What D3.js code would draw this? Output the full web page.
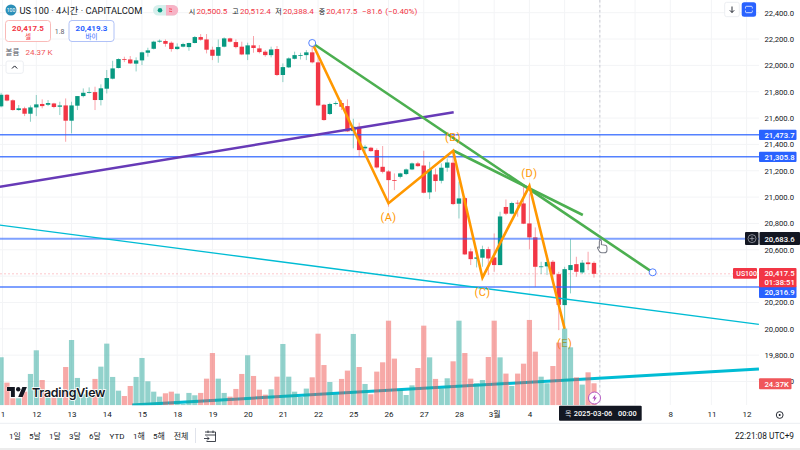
<!DOCTYPE html>
<html>
<head>
<meta charset="utf-8">
<script src="https://cdn.jsdelivr.net/npm/d3@7/dist/d3.min.js"></script>
<style>
  html, body { margin: 0; padding: 0; background: #fff; }
  svg { display: block; font-family: Roboto, "Noto Sans CJK KR", sans-serif; }
  .domain { display: none; }
</style>
</head>
<body>
<div id="chart"></div>
<script>
// four hour bars, oldest first
const candleOpen = [21689,21777,21735,21661,21674,21633,21681,21707,21701,21711,21686,21696,21580,21694,21767,21792,21797,21737,21823,21899,21980,22048,22045,22013,22038,22096,22126,22180,22185,22172,22124,22142,22139,22170,22215,22197,22119,22073,22142,22205,22177,22142,22083,22152,22129,22104,22078,22124,21927,21985,22050,22073,22078,22099,22023,21701,21631,21707,21714,21691,21501,21534,21370,21375,21357,21230,21195,21129,21154,21175,21210,21256,21240,21036,21172,21124,21223,21261,20950,20992,20588,20532,20540,20605,20542,20484,20925,20874,20957,20952,20800,20694,20469,20474,20509,20415,20180,20446,20491,20428,20504,20500.5];
const candleHigh = [21792,21782,21742,21699,21686,21696,21775,21742,21737,21716,21724,21749,21724,21767,21825,21833,21838,21856,21965,22035,22053,22066,22071,22061,22104,22134,22187,22197,22197,22182,22167,22172,22172,22223,22238,22238,22142,22197,22213,22210,22197,22180,22172,22223,22154,22116,22142,22147,22015,22061,22104,22096,22116,22147,22078,21707,21717,21727,21737,21742,21595,21565,21395,21382,21370,21388,21205,21180,21185,21217,21263,21268,21352,21268,21217,21256,21294,21357,21117,21003,20610,20598,20631,20623,20724,20889,20982,20965,20977,21079,21028,20770,20509,20527,20522,20433,20471,20681,20547,20522,20585,20512.4];
const candleLow = [21681,21727,21656,21656,21615,21572,21615,21674,21691,21674,21623,21420,21484,21661,21757,21787,21661,21696,21787,21894,21977,22025,22010,21954,22002,22066,22121,22172,22142,22104,22119,22137,22111,22167,22187,22091,22040,22020,22137,22175,22129,22078,22040,22096,22091,22066,22061,21919,21873,21980,22045,22045,22040,22015,21691,21580,21623,21696,21661,21494,21370,21306,21344,21344,21217,21180,20927,21053,21142,21167,21205,21230,21028,20985,21041,21104,21192,20939,20838,20560,20484,20466,20471,20408,20433,20484,20863,20869,20851,20795,20603,20319,20415,20408,20357,19990,20003,20269,20395,20415,20446,20388.4];
const candleClose = [21777,21733,21661,21674,21633,21681,21704,21691,21714,21684,21696,21580,21696,21767,21792,21797,21737,21826,21904,21977,22048,22043,22015,22038,22099,22114,22180,22187,22164,22124,22142,22162,22170,22215,22195,22119,22073,22139,22205,22180,22139,22083,22152,22132,22101,22078,22121,21927,21987,22053,22078,22078,22099,22023,21696,21585,21707,21714,21686,21499,21534,21357,21382,21349,21225,21192,21129,21127,21180,21210,21256,21235,21033,21210,21122,21223,21263,20947,20990,20565,20529,20542,20605,20534,20484,20853,20874,20955,20952,20798,20694,20471,20474,20507,20413,20182,20453,20484,20433,20502,20491,20417.5];
const volumeK = [53.2,25.1,7.8,7.8,15.1,34.7,60.9,28,8.5,8.5,8.5,42.4,72.3,30.3,12.2,12.2,29.2,42.8,68.3,31.4,16.2,10.3,21.4,31.4,52.4,26.6,15.1,9.6,13.3,15.1,12.9,1.5,13.7,11.1,13.7,29.5,57.9,29.5,13.7,9.6,18.1,34.7,55.4,32.5,17.3,11.8,17.7,31.7,67.9,31.7,15.1,9.2,18.5,31,79.3,44.6,25.8,12.2,29.2,38.4,79,42.4,23.6,12.2,37.3,47.6,93.7,51.7,17,11.4,22.1,41.3,88.2,53.1,29.2,18.8,29.9,48.7,93.7,57.9,29.5,24.4,28,53.5,93.7,53.1,35.1,21.4,35.1,46.1,94.5,59.4,31.7,24.4,43.5,69.4,85,64.2,31,22.9,36.5,24.37];

const priceTicks = [22400,22200,22000,21800,21600,21400,21200,21000,20800,20600,20200,20000,19800,19600];
const timeTickBars = [0.25,6,12,18,24,30,36,42,48,54,60,66,72,78,84,90,114,121,127];
const timeTickLabels = ["1","12","13","14","15","18","19","20","21","22","25","26","27","28","3월","4","8","11","12"];
const hiddenDayBars = [96, 102, 108]; // days behind the date tag, grid only

const levelPrices = [21473.7, 21305.8, 20683.6, 20316.9];
const lastPrice = 20417.5;

// drawings as [bar, price]
const waveBars = [53, 66, 77, 82, 90, 96];
const wavePrices = [22170, 20953, 21352, 20388, 21084, 20000];
const waveLabels = ["", "(A)", "(B)", "(C)", "(D)", "(E)"];
const greenLongBars = [53, 111], greenLongPrices = [22170, 20429];
const greenShortBars = [77.1, 99.1], greenShortPrices = [21352, 20864];
const purpleBars = [-0.2, 77.1], purplePrices = [21079, 21644];
const cyanThinBars = [-0.2, 129.1], cyanThinPrices = [20788, 20034];
const cyanThickBars = [22.3, 129.1], cyanThickPrices = [19421, 19695];

const rangeButtons = ["1일","5날","1달","3달","6달","YTD","1해","5해","전체"];
const rangeButtonCentres = [15, 35, 55, 75, 95, 117, 139, 159, 181];

const width = 800, height = 450, paneWidth = 759, volumeBase = 405.3;
const up = "#089981", down = "#f23645", blue = "#2962ff", ink = "#131722", grey = "#5d606b";

const x = d3.scaleLinear().domain([0, 127]).range([1.1, 746.6]);
const y = d3.scaleLinear().domain([22400, 19600]).range([12.7, 381.5]);
const vol = d3.scaleLinear().domain([0, 100]).range([volumeBase, volumeBase - 90.3]);

const svg = d3.select("#chart").append("svg").attr("width", width).attr("height", height);
svg.append("defs").append("clipPath").attr("id", "pane")
    .append("rect").attr("width", paneWidth).attr("height", volumeBase);

const pane = svg.append("g").attr("clip-path", "url(#pane)");

// grid
pane.append("g").selectAll("line").data(priceTicks.concat([20400])).join("line")
    .attr("x1", 0).attr("x2", paneWidth)
    .attr("y1", d => y(d)).attr("y2", d => y(d))
    .attr("stroke", "#f3f4f6");
pane.append("g").selectAll("line").data(timeTickBars.concat(hiddenDayBars)).join("line")
    .attr("x1", d => x(d)).attr("x2", d => x(d))
    .attr("y1", 0).attr("y2", volumeBase)
    .attr("stroke", "#f3f4f6");

// last price line
pane.append("line")
    .attr("x1", 0).attr("x2", paneWidth)
    .attr("y1", y(lastPrice)).attr("y2", y(lastPrice))
    .attr("stroke", down).attr("stroke-opacity", 0.28).attr("stroke-dasharray", "2 2");

// crosshair
pane.append("line")
    .attr("x1", x(102)).attr("x2", x(102))
    .attr("y1", 0).attr("y2", volumeBase)
    .attr("stroke", "#b2b5be").attr("stroke-dasharray", "2.5 2.5").attr("stroke-width", 0.7);

// candles
const bars = d3.range(candleOpen.length);
const barColor = i => candleClose[i] >= candleOpen[i] ? up : down;
pane.append("g").selectAll("line").data(bars).join("line")
    .attr("x1", i => x(i)).attr("x2", i => x(i))
    .attr("y1", i => y(candleHigh[i])).attr("y2", i => y(candleLow[i]))
    .attr("stroke", barColor).attr("stroke-opacity", 0.45);
pane.append("g").selectAll("rect").data(bars).join("rect")
    .attr("x", i => x(i) - 2.2).attr("width", 4.4)
    .attr("y", i => y(Math.max(candleOpen[i], candleClose[i])))
    .attr("height", i => Math.max(0.8, Math.abs(y(candleOpen[i]) - y(candleClose[i]))))
    .attr("fill", barColor);

// levels
pane.append("g").selectAll("line").data(levelPrices).join("line")
    .attr("x1", 0).attr("x2", paneWidth)
    .attr("y1", d => y(d)).attr("y2", d => y(d))
    .attr("stroke", blue)
    .attr("stroke-width", d => d === levelPrices[2] ? 1.8 : 1.4)
    .attr("stroke-opacity", d => d === levelPrices[2] ? 0.6 : 0.8);

// drawings
const line = d3.line();
function drawLine(barsOf, pricesOf, color, w) {
    pane.append("path")
        .attr("d", line(barsOf.map((b, k) => [x(b), y(pricesOf[k])])))
        .attr("fill", "none").attr("stroke", color).attr("stroke-width", w)
        .attr("stroke-linejoin", "miter");
}
drawLine(cyanThinBars, cyanThinPrices, "#00bcd4", 1.3);
drawLine(cyanThickBars, cyanThickPrices, "#00bcd4", 3);
drawLine(purpleBars, purplePrices, "#673ab7", 2.5);
drawLine(greenLongBars, greenLongPrices, "#4caf50", 2.6);
drawLine(greenShortBars, greenShortPrices, "#4caf50", 2.6);
drawLine(waveBars, wavePrices, "#ff9800", 2.6);

const waveLabelDy = [0, 14, -14, 14, -13, 14];
pane.append("g").selectAll("text").data(waveLabels).join("text")
    .attr("x", (d, k) => x(waveBars[k]))
    .attr("y", (d, k) => y(wavePrices[k]) + waveLabelDy[k] + 4)
    .attr("text-anchor", "middle").attr("font-size", 11).attr("letter-spacing", 0.5)
    .attr("fill", "#ff9800").text(d => d);

pane.append("g").selectAll("circle")
    .data([[greenLongBars[0], greenLongPrices[0]], [greenLongBars[1], greenLongPrices[1]]]).join("circle")
    .attr("cx", d => x(d[0])).attr("cy", d => y(d[1])).attr("r", 3.5)
    .attr("fill", "#fff").attr("stroke", blue).attr("stroke-width", 0.8);

// volume sits over the drawings
pane.append("g").selectAll("rect").data(bars).join("rect")
    .attr("x", i => x(i) - 2.6).attr("width", 5.2)
    .attr("y", i => vol(volumeK[i]))
    .attr("height", i => volumeBase - vol(volumeK[i]))
    .attr("fill", i => candleClose[i] >= candleOpen[i] ? "#26a69a" : "#ef5350")
    .attr("fill-opacity", 0.5);

// watermark
const mark = svg.append("g").attr("transform", "translate(7,385)");
mark.append("path")
    .attr("transform", "scale(0.56) translate(0,-0.5)")
    .attr("d", "M14 22H7V11H0V4h14v18zM28 22h-8l7.5-18h8L28 22z")
    .attr("fill", ink).attr("stroke", "#fff").attr("stroke-width", 1).attr("paint-order", "stroke");
mark.append("circle").attr("cx", 11.2).attr("cy", 4.2).attr("r", 2.2).attr("fill", ink);
mark.append("text").attr("x", 25).attr("y", 12.3)
    .attr("font-size", 12.4).attr("font-weight", 600).attr("fill", ink)
    .attr("font-family", "Inter, Roboto, sans-serif").attr("letter-spacing", -0.2)
    .attr("stroke", "#fff").attr("stroke-width", 1.5).attr("paint-order", "stroke")
    .text("TradingView");

// mouse hand
svg.append("path")
    .attr("transform", "translate(597.5,239) scale(1.15)")
    .attr("d", "M2 0.5c1 0 1.4 .6 1.4 1.4v3l3.4 .6c1 .2 1.4 .8 1.4 1.6v2.6c0 1.4 -.9 2.3 -2.3 2.3h-2.1c-.9 0 -1.5 -.4 -2 -1l-1.7 -3c-.4 -.7 .4 -1.4 1 -.9l.5 .5v-5.2c0 -.8 .4 -1.4 1 -1.4z")
    .attr("fill", "#fff").attr("stroke", "#787b86").attr("stroke-width", 0.9);

// price axis
const priceAxis = d3.axisRight(y).tickValues(priceTicks).tickSize(0).tickPadding(0)
    .tickFormat(d3.format(",.1f"));
svg.append("g").attr("transform", "translate(764.5,0)").call(priceAxis)
    .call(g => g.selectAll("text").attr("font-family", "Roboto, sans-serif").attr("font-size", 7.7).attr("fill", ink));

// time axis
const timeAxis = d3.axisBottom(x).tickValues(timeTickBars).tickSize(0).tickPadding(0)
    .tickFormat((d, k) => timeTickLabels[k]);
svg.append("g").attr("transform", "translate(0,411)").call(timeAxis)
    .call(g => g.selectAll("text").attr("font-family", "Roboto, 'Noto Sans CJK KR', sans-serif").attr("font-size", 8).attr("fill", ink));

svg.append("line").attr("x1", 0).attr("x2", width).attr("y1", 423.3).attr("y2", 423.3).attr("stroke", "#eceef2");
svg.append("rect").attr("y", 448).attr("width", width).attr("height", 2).attr("fill", "#ececec");

// axis tags
function tag(left, right, top, bottom, fill) {
    svg.append("rect").attr("x", left).attr("y", top)
        .attr("width", right - left).attr("height", bottom - top)
        .attr("fill", fill).attr("rx", 1);
}
function tagText(text, px, py, color, size) {
    return svg.append("text").attr("x", px).attr("y", py)
        .attr("font-size", size || 7.7).attr("fill", color || "#fff")
        .attr("font-weight", 500).text(text);
}
const f1 = d3.format(",.1f");
tag(759, 796.5, y(levelPrices[0]) - 5, y(levelPrices[0]) + 5.3, blue);
tagText(f1(levelPrices[0]), 764.5, y(levelPrices[0]) + 3);
tag(759, 796.5, y(levelPrices[1]) - 5, y(levelPrices[1]) + 5.3, blue);
tagText(f1(levelPrices[1]), 764.5, y(levelPrices[1]) + 3);
tag(745, 758.5, 232, 245, ink);
svg.append("circle").attr("cx", 752).attr("cy", 238.6).attr("r", 4)
    .attr("fill", "none").attr("stroke", "#b2b5be").attr("stroke-width", 0.7);
svg.append("path").attr("d", "M749.6 238.6h4.8M752 236.2v4.8").attr("stroke", "#b2b5be").attr("stroke-width", 0.7);
tag(759.5, 800, 232, 245, ink);
tagText(f1(levelPrices[2]), 764.5, y(levelPrices[2]) + 3);
tag(759, 796.5, y(levelPrices[3]) - 1, y(levelPrices[3]) + 11, blue);
tagText(f1(levelPrices[3]), 764.5, y(levelPrices[3]) + 8);
tag(733, 757, 268, 278.7, down);
tagText("US100", 736.3, 276.2, "#fff", 7);
tag(759, 796.5, 268, 287.3, down);
tagText(f1(lastPrice), 764.5, 276.2);
tagText("01:38:51", 764.5, 284.8);
tag(759, 791.5, 378.3, 389.3, "#f0565a");
tagText("24.37K", 764.5, 386.5);
tag(559, 641.7, 405.7, 420.7, ink);
tagText("목", 565, 416, "#d1d4dc", 7);
tagText("2025-03-06", 573.7, 416, "#fff", 7.4);
tagText("00:00", 618, 416, "#fff", 7.4);

// gear on the time axis
svg.append("circle").attr("cx", 779.7).attr("cy", 415).attr("r", 3.4)
    .attr("fill", "none").attr("stroke", ink).attr("stroke-width", 0.9);
svg.append("circle").attr("cx", 779.7).attr("cy", 415).attr("r", 1).attr("fill", ink);

// event badge
svg.append("circle").attr("cx", 594.5).attr("cy", 398).attr("r", 6)
    .attr("fill", "#fff").attr("stroke", "#ab47bc").attr("stroke-width", 0.9);
svg.append("path").attr("d", "M595.6 394.2l-3.2 4.4h2l-.8 3.2 3.2 -4.4h-2z").attr("fill", "#ab47bc");

// header
svg.append("circle").attr("cx", 11).attr("cy", 10).attr("r", 5.5).attr("fill", "#2a8fb8");
svg.append("text").attr("x", 11).attr("y", 12).attr("text-anchor", "middle")
    .attr("font-size", 5).attr("fill", "#fff").text("100");
svg.append("text").attr("x", 19.5).attr("y", 14).attr("font-size", 9.3).attr("fill", ink)
    .text("US 100 · 4시간 · CAPITALCOM");

svg.append("rect").attr("x", 153).attr("y", 5).attr("width", 25).attr("height", 10.5).attr("rx", 5.2).attr("fill", "#d6efec");
svg.append("path").attr("d", "M166 5h7a5.2 5.2 0 0 1 0 10.5h-7z").attr("fill", "#f7b3c6");
svg.append("circle").attr("cx", 160).attr("cy", 10.2).attr("r", 2.3).attr("fill", up);
svg.append("path").attr("d", "M169 9c1 -.8 2 .8 3 0M169 11.4c1 -.8 2 .8 3 0").attr("fill", "none").attr("stroke", down).attr("stroke-width", 0.9);

const ohlcLabels = ["시", "고", "저", "종"];
const ohlcValues = ["20,500.5", "20,512.4", "20,388.4", "20,417.5"];
const ohlcStarts = [188.8, 232.3, 275.3, 318.7];
ohlcLabels.forEach((d, k) => {
    svg.append("text").attr("x", ohlcStarts[k]).attr("y", 13.5).attr("font-size", 7).attr("fill", ink).text(d);
    svg.append("text").attr("x", ohlcStarts[k] + 7.6).attr("y", 13.5).attr("font-size", 8.1).attr("fill", down).text(ohlcValues[k]);
});
svg.append("text").attr("x", 362).attr("y", 13.5).attr("font-size", 8.1).attr("fill", down).text("−81.6");
svg.append("text").attr("x", 385.3).attr("y", 13.5).attr("font-size", 8.1).attr("fill", down).text("(−0.40%)");

// sell and buy boxes
function tradeBox(left, color, borderColor, price, word) {
    svg.append("rect").attr("x", left).attr("y", 20.5).attr("width", 45).attr("height", 21).attr("rx", 3)
        .attr("fill", "#fff").attr("stroke", borderColor).attr("stroke-width", 0.8);
    svg.append("text").attr("x", left + 22.5).attr("y", 30.5).attr("text-anchor", "middle")
        .attr("font-size", 8).attr("font-weight", 700).attr("fill", color).text(price);
    svg.append("text").attr("x", left + 22.5).attr("y", 38.8).attr("text-anchor", "middle")
        .attr("font-size", 6.5).attr("fill", color).text(word);
}
tradeBox(5.5, down, "#f7a9a7", "20,417.5", "셀");
tradeBox(69, blue, "#9db2f5", "20,419.3", "바이");
svg.append("text").attr("x", 59.7).attr("y", 33.5).attr("text-anchor", "middle")
    .attr("font-size", 7).attr("fill", grey).text("1.8");
svg.append("text").attr("x", 5.5).attr("y", 55).attr("font-size", 7.5).attr("fill", grey).text("볼륨");
svg.append("text").attr("x", 25.5).attr("y", 55).attr("font-size", 8).attr("fill", "#f0565a").text("24.37 K");
svg.append("rect").attr("x", 6).attr("y", 61).attr("width", 17.3).attr("height", 12.3).attr("rx", 2)
    .attr("fill", "#fff").attr("stroke", "#eceef2");
svg.append("path").attr("d", "M12 68.5l2.6 -2.6l2.6 2.6").attr("fill", "none").attr("stroke", ink).attr("stroke-width", 1);

// top right buttons
svg.append("rect").attr("x", 724.7).attr("y", 2.3).attr("width", 14.6).attr("height", 14.4).attr("rx", 2)
    .attr("fill", "#fff").attr("stroke", "#eceef2");
svg.append("path").attr("d", "M732 6.5v6M729.8 10.3l2.2 2.2l2.2 -2.2").attr("fill", "none").attr("stroke", ink).attr("stroke-width", 0.9);
svg.append("rect").attr("x", 741.7).attr("y", 2.3).attr("width", 14.4).attr("height", 14.4).attr("rx", 2.5).attr("fill", blue);
svg.append("path").attr("d", "M745.5 8.5v-1.2a1 1 0 0 1 1 -1h4.8a1 1 0 0 1 1 1v1.2M745.5 10.5v1.2a1 1 0 0 0 1 1h4.8a1 1 0 0 0 1 -1v-1.2")
    .attr("fill", "none").attr("stroke", "#fff").attr("stroke-width", 0.8);

// bottom toolbar
svg.append("g").selectAll("text").data(rangeButtons).join("text")
    .attr("x", (d, k) => rangeButtonCentres[k]).attr("y", 439)
    .attr("text-anchor", "middle").attr("font-size", 8).attr("fill", ink).text(d => d);
svg.append("line").attr("x1", 195.5).attr("x2", 195.5).attr("y1", 428).attr("y2", 443).attr("stroke", "#e0e3eb");
svg.append("path").attr("d", "M205 432h10.5v9.5h-9M205 435h10.5M208 430.5v2.5M213 430.5v2.5M204 438.5h5M207 436.5l2 2l-2 2")
    .attr("fill", "none").attr("stroke", ink).attr("stroke-width", 0.8);
svg.append("text").attr("x", 794).attr("y", 439).attr("text-anchor", "end")
    .attr("font-size", 8.3).attr("fill", ink).text("22:21:08 UTC+9");
</script>
</body>
</html>
